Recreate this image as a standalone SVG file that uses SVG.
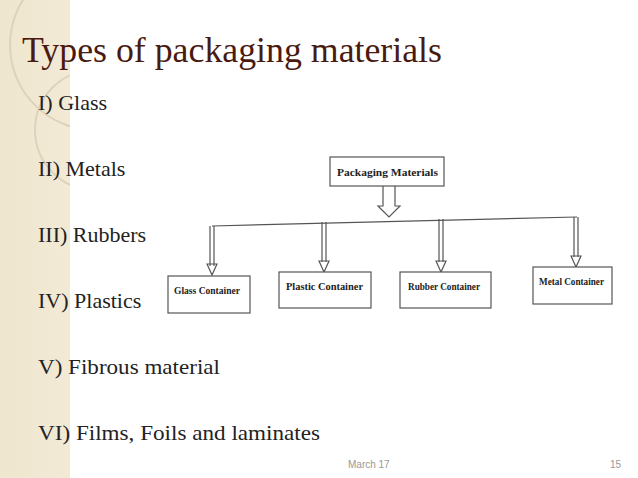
<svg xmlns="http://www.w3.org/2000/svg" width="638" height="478" viewBox="0 0 638 478">
<defs>
<linearGradient id="side" x1="0" y1="0" x2="1" y2="0"><stop offset="0" stop-color="#efe6cf"/><stop offset="1" stop-color="#f3ead6"/></linearGradient>
<clipPath id="sc"><rect x="0" y="0" width="70" height="478"/></clipPath>
</defs>
<style>
.box{fill:#fff;stroke:#555;stroke-width:1.2}
.bl{font-family:"Liberation Serif",serif;font-weight:bold;font-size:11px;fill:#222}
.li{font-family:"Liberation Serif",serif;font-size:22px;fill:#222}
.con{stroke:#555;stroke-width:1.2;fill:none}
.foot{font-family:"Liberation Sans",sans-serif;font-size:10px;fill:#999}
</style>
<rect width="638" height="478" fill="#fff"/>
<rect x="0" y="0" width="70" height="478" fill="url(#side)"/>
<g fill="none" stroke="#ddd3bb" stroke-width="2" clip-path="url(#sc)">
<circle cx="95" cy="45" r="85"/>
<circle cx="95" cy="130" r="60"/>
</g>
<text x="22" y="62" font-family="Liberation Serif,serif" font-size="36" fill="#4a1a10" textLength="420" lengthAdjust="spacingAndGlyphs">Types of packaging materials</text>
<text class="li" x="38" y="110">I) Glass</text>
<text class="li" x="38" y="176">II) Metals</text>
<text class="li" x="38" y="242">III) Rubbers</text>
<text class="li" x="38" y="308">IV) Plastics</text>
<text class="li" x="38" y="374" textLength="182" lengthAdjust="spacingAndGlyphs">V) Fibrous material</text>
<text class="li" x="38" y="440" textLength="282" lengthAdjust="spacingAndGlyphs">VI) Films, Foils and laminates</text>
<text class="foot" x="348" y="468">March 17</text>
<text class="foot" x="610" y="468">15</text>
<g id="connectors">
<path class="con" d="M383,186 V206 H378 L389,217 L400,206 H395 V186" fill="#fff"/>
<line class="con" x1="212" y1="226" x2="577" y2="217"/>
<path class="con" d="M210,226 V266 M214,226 V266"/><path class="con" d="M207,264 L212,275 L217,264 Z" fill="#fff"/>
<path class="con" d="M322,222 V262 M326,222 V262"/><path class="con" d="M319,261 L324,272 L329,261 Z" fill="#fff"/>
<path class="con" d="M439,219 V262 M443,219 V262"/><path class="con" d="M436,261 L441,272 L446,261 Z" fill="#fff"/>
<path class="con" d="M574,217 V257 M578,217 V257"/><path class="con" d="M571,256 L576,267 L581,256 Z" fill="#fff"/>
</g>
<g id="packaging"><rect class="box" x="330" y="157" width="114" height="29"/><text class="bl" x="337" y="176" textLength="101" lengthAdjust="spacingAndGlyphs">Packaging Materials</text></g>
<g id="glass"><rect class="box" x="168" y="276" width="82" height="37"/><text class="bl" x="174" y="294" textLength="66" lengthAdjust="spacingAndGlyphs">Glass Container</text></g>
<g id="plastic"><rect class="box" x="279" y="272" width="92" height="36"/><text class="bl" x="286" y="290" textLength="77" lengthAdjust="spacingAndGlyphs">Plastic Container</text></g>
<g id="rubber"><rect class="box" x="400" y="272" width="91" height="36"/><text class="bl" x="408" y="290" font-size="10" textLength="72" lengthAdjust="spacingAndGlyphs">Rubber Container</text></g>
<g id="metal"><rect class="box" x="533" y="267" width="79" height="37"/><text class="bl" x="539" y="285" font-size="10" textLength="65" lengthAdjust="spacingAndGlyphs">Metal Container</text></g>
</svg>
